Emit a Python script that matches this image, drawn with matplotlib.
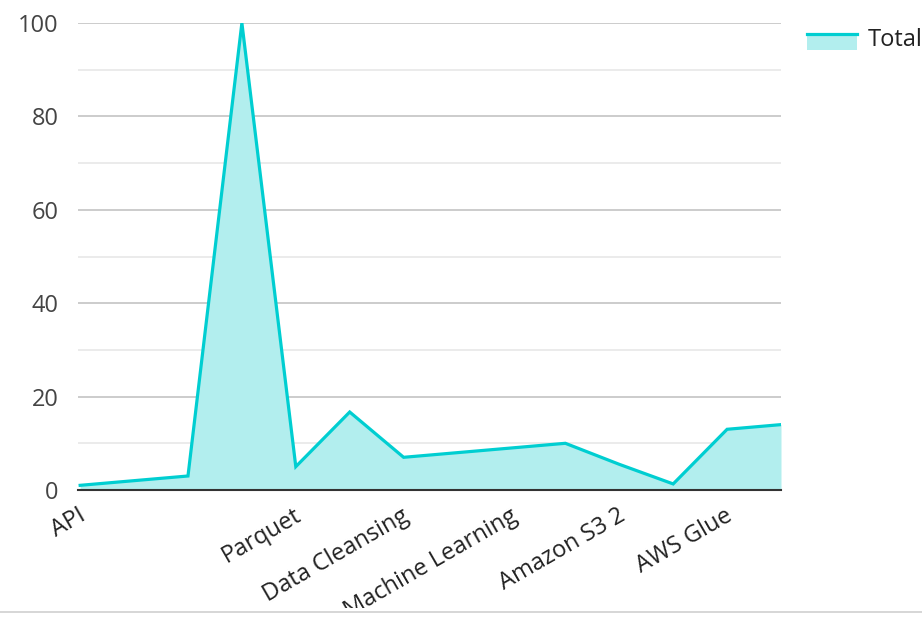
import numpy as np
import matplotlib.pyplot as plt
import matplotlib.transforms as mtransforms
from matplotlib.lines import Line2D
from matplotlib.patches import Rectangle
from matplotlib.legend_handler import HandlerBase

plt.rcParams['font.family'] = ['Open Sans', 'DejaVu Sans']

# 数据
categories = ['API', '', '', '', 'Parquet', '', 'Data Cleansing', '',
              'Machine Learning', '', 'Amazon S3 2', '', 'AWS Glue', '']
totals = [1, 2, 3, 100, 5, 16.7, 7, 8, 9, 10, 5.5, 1.3, 13, 14]

line_color = '#00CED1'
fill_color = '#B2EEEE'


# 图例句柄：上面一条线，下面一块填充
class AreaHandler(HandlerBase):
    def create_artists(self, legend, orig_handle, xdescent, ydescent,
                       width, height, fontsize, trans):
        top = height * 0.75
        rect = Rectangle((-xdescent, -ydescent - height * 0.2), width, top + height * 0.2 - ydescent,
                         facecolor=fill_color, edgecolor='none', transform=trans)
        line = Line2D([-xdescent, width - xdescent], [top, top],
                      color=line_color, linewidth=2.3, transform=trans)
        return [rect, line]


fig = plt.figure(figsize=(9.22, 6.17), dpi=100)
ax = fig.add_axes([78 / 922, 1 - 490 / 617, (781 - 78) / 922, (490 - 23) / 617])

x = np.arange(len(totals))
ax.fill_between(x, totals, 0, color=fill_color, linewidth=0)
area_line, = ax.plot(x, totals, color=line_color, linewidth=2.3, solid_joinstyle='miter')

ax.set_xlim(-0.04, len(totals) - 1)
ax.set_ylim(0, 100)

# 网格线
ax.set_yticks(np.arange(0, 101, 20))
ax.set_yticks(np.arange(10, 100, 20), minor=True)
ax.grid(axis='y', which='major', color='#c4c4c4', linewidth=1.2)
ax.grid(axis='y', which='minor', color='#e8e8e8', linewidth=1.2)
ax.set_axisbelow(True)
for s in ['left', 'right', 'top']:
    ax.spines[s].set_visible(False)
ax.spines['bottom'].set_color('#333333')
ax.spines['bottom'].set_linewidth(1.5)
ax.spines['bottom'].set_zorder(5)

ax.tick_params(axis='y', which='both', length=0, pad=14, labelsize=17, labelcolor='#444444')
ax.tick_params(axis='x', length=0, pad=10)
ax.set_xticks(x)
ax.set_xticklabels(categories, rotation=30, ha='right', va='top',
                   rotation_mode='anchor', fontsize=17, color='#222222')
offset = mtransforms.ScaledTranslation(-2 / 100, 0, fig.dpi_scale_trans)
# 底部分隔线以下的文字被裁掉
clip_rect = Rectangle((0, 1 - 608 / 617), 1, 608 / 617, transform=fig.transFigure)
for lab in ax.get_xticklabels():
    lab.set_transform(lab.get_transform() + offset)
    lab.set_clip_path(clip_rect)
    lab.set_clip_on(True)

# 图例
leg = fig.legend([area_line], ['Total'], loc='upper left',
                 bbox_to_anchor=(786 / 922, 1 - 7 / 617),
                 handler_map={area_line: AreaHandler()},
                 frameon=False, fontsize=17, handlelength=2.1, handletextpad=0.45)
leg.get_texts()[0].set_color('#222222')

fig.add_artist(Line2D([0, 1], [1 - 612 / 617] * 2, color='#d0d0d0', linewidth=1.2))

plt.savefig('out.png', dpi=100)
